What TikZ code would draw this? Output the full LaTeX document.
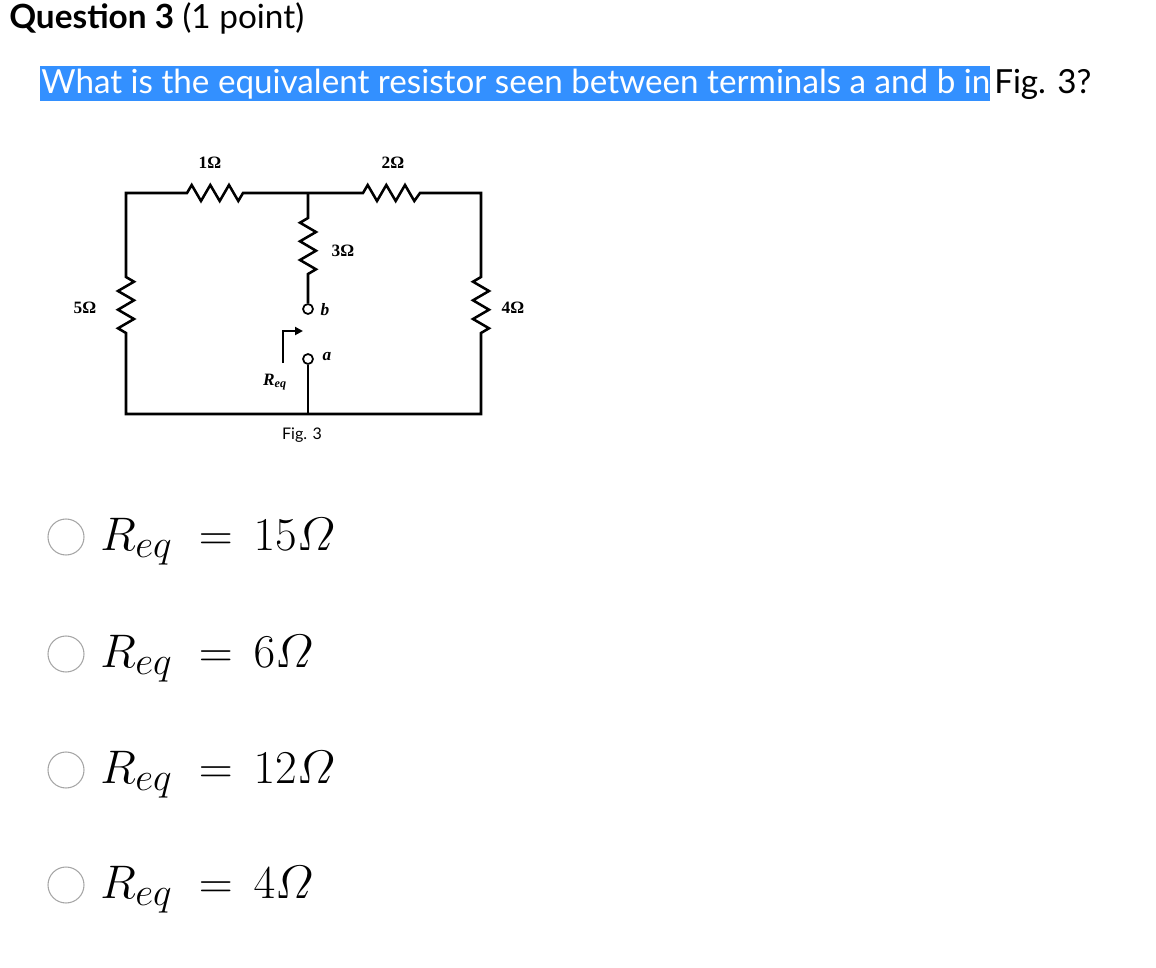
\documentclass[tikz,border=0pt]{standalone}
\usepackage{amsmath}
\usepackage{fontspec}
\setmainfont{Lato}
\newfontfamily\tms{Liberation Serif}
\usetikzlibrary{arrows.meta}
\definecolor{hl}{HTML}{3390FF}
\begin{document}
\begin{tikzpicture}[x=0.75pt,y=-0.75pt,
  wire/.style={line width=1.9pt,line join=miter},
  lab/.style={font=\tms\bfseries\fontsize{13}{14}\selectfont,inner sep=0pt},
  ilab/.style={font=\tms\bfseries\itshape\fontsize{13}{14}\selectfont,inner sep=0pt},
  term/.style={circle,draw,line width=1.3pt,minimum size=7.5pt,inner sep=0pt,fill=white},
  radio/.style={circle,draw=gray!70,line width=0.8pt,minimum size=27pt,inner sep=0pt},
  ans/.style={anchor=base west,inner sep=0pt,font=\Huge}]
\useasboundingbox (0,0) rectangle (1156,967);
% header
\node[anchor=base west,inner sep=0pt,font=\fontsize{25}{28}\selectfont] (q) at (9,28) {\textbf{Question 3} (1 point)};
\fill[hl] (40,66) rectangle (990,101);
\node[anchor=base west,inner sep=0pt,font=\fontsize{24.9}{28}\selectfont,text=white] (qt) at (41,93) {What is the equivalent resistor seen between terminals a and b in};
\node[anchor=base west,inner sep=0pt,font=\fontsize{24.9}{28}\selectfont] (qf) at (994,93) {Fig. 3?};
% circuit coordinates
\coordinate (tl) at (126,193);
\coordinate (tr) at (481,193);
\coordinate (bl) at (126,414);
\coordinate (br) at (481,414);
\coordinate (tm) at (308,193);
\coordinate (bm) at (308,414);
\node[term] (b) at (308,309) {};
\node[term] (a) at (308,359) {};
\draw[wire] (tl) -- (187,193) -- (191.7,185) -- (201,201) -- (210.3,185) -- (219.7,201) -- (229,185) -- (238.3,201) -- (243,193) -- (tm)
  -- (363,193) -- (367.7,185) -- (377,201) -- (386.3,185) -- (395.7,201) -- (405,185) -- (414.3,201) -- (420,193) -- (tr)
  -- (481,277) -- (473,281.7) -- (489,291) -- (473,300.3) -- (489,309.7) -- (473,319) -- (489,328.3) -- (481,333) -- (br)
  -- (bl) -- (126,333) -- (118,328.3) -- (134,319) -- (118,309.7) -- (134,300.3) -- (118,291) -- (134,281.7) -- (126,277) -- cycle;
\draw[wire] (tm) -- (308,218) -- (300,222.7) -- (316,232) -- (300,241.3) -- (316,250.7) -- (300,260) -- (316,269.3) -- (308,274) -- (b);
\draw[wire] (bm) -- (a);
\coordinate (r1) at (283,363);
\coordinate (r2) at (303,331);
\draw[line width=1.5pt,-{Triangle[length=6pt,width=6pt]}] (r1) |- (r2);
% labels
\node[lab] (l1) at (210,163) {1Ω};
\node[lab] (l2) at (393,163) {2Ω};
\node[lab] (l3) at (343,251) {3Ω};
\node[lab] (l5) at (85,308) {5Ω};
\node[lab] (l4) at (513,308) {4Ω};
\node[ilab] (lb) at (325,310) {b};
\node[ilab] (la) at (327,357) {a};
\node[ilab] (lr) at (275,382) {R\textsubscript{eq}};
\node[inner sep=0pt,font=\fontsize{12}{14}\selectfont] (fig) at (302,435) {Fig. 3};
% options
\foreach \y/\v [count=\i] in {537/15,654/6,770/12,885/4}{
  \node[radio] (c\i) at (66,\y) {};
  \node[ans] (o\i) at (100,\y+13) {\scalebox{1.42}{$R_{eq}\;=\,\v\varOmega$}};
}
\end{tikzpicture}
\end{document}
